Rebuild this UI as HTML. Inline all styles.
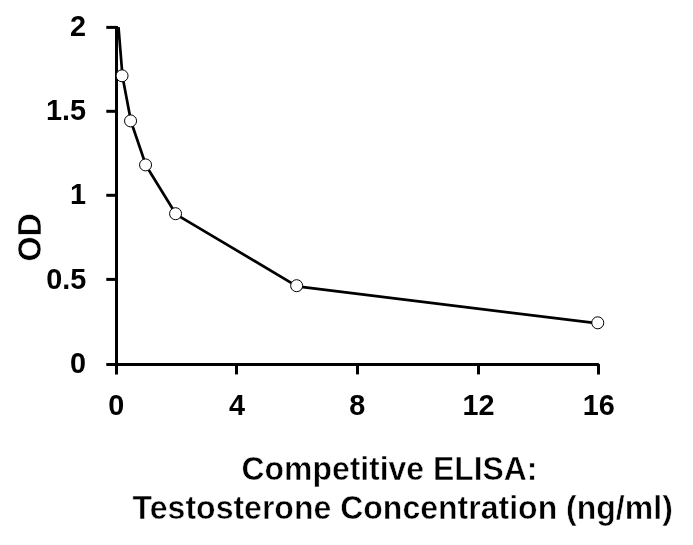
<!DOCTYPE html>
<html lang="en">
<head>
<meta charset="utf-8">
<title>Competitive ELISA: Testosterone Concentration (ng/ml)</title>
<style>
html,body{margin:0;padding:0;background:#fff;}
body{width:693px;height:545px;overflow:hidden;}
svg{display:block;}
text{font-family:"Liberation Sans",sans-serif;font-weight:bold;fill:#000;}
.tick{font-size:28px;}
.ttl{font-size:32px;}
.od{font-size:31px;}
</style>
</head>
<body>
<svg width="693" height="545" viewBox="0 0 693 545">
  <rect x="0" y="0" width="693" height="545" fill="#fff"/>

  <!-- axes -->
  <g stroke="#000" stroke-width="3" fill="none" stroke-linecap="butt">
    <line x1="116.5" y1="26" x2="116.5" y2="374.4"/>
    <path d="M106.3 364.5 L598.5 364.5 L598.5 374.4" stroke-linejoin="bevel"/>
    <!-- y ticks -->
    <line x1="106.3" y1="27.4" x2="116.5" y2="27.4"/>
    <line x1="106.3" y1="111.3" x2="116.5" y2="111.3"/>
    <line x1="106.3" y1="195.3" x2="116.5" y2="195.3"/>
    <line x1="106.3" y1="279.4" x2="116.5" y2="279.4"/>
    <!-- x ticks -->
    <line x1="236.5" y1="364.5" x2="236.5" y2="374.4"/>
    <line x1="357.5" y1="364.5" x2="357.5" y2="374.4"/>
    <line x1="478.5" y1="364.5" x2="478.5" y2="374.4"/>
  </g>

  <!-- data line -->
  <polyline fill="none" stroke="#000" stroke-width="2.7" stroke-linejoin="round"
    points="118.5,27.2 122.5,76.4 131.0,121.5 146.0,165.5 176.0,214.3 297.1,286.3 598.2,323.4"/>

  <!-- markers -->
  <g fill="#fff" stroke="#000" stroke-width="1">
    <circle cx="122.05" cy="75.80" r="6"/>
    <circle cx="130.55" cy="120.90" r="6"/>
    <circle cx="145.55" cy="164.90" r="6"/>
    <circle cx="175.55" cy="213.70" r="6"/>
    <circle cx="296.65" cy="285.70" r="6"/>
    <circle cx="597.75" cy="322.80" r="6"/>
  </g>

  <!-- y tick labels -->
  <g class="tick" text-anchor="end">
    <text transform="translate(86 36.2) scale(1.03 1.07)">2</text>
    <text transform="translate(86 119.9) scale(1.03 1.07)">1.5</text>
    <text transform="translate(86 204) scale(1.03 1.07)">1</text>
    <text transform="translate(86.2 289) scale(1.03 1.07)">0.5</text>
    <text transform="translate(86 373) scale(1.03 1.07)">0</text>
  </g>

  <!-- x tick labels -->
  <g class="tick" text-anchor="middle">
    <text transform="translate(116.3 414.8) scale(1.03 1.07)">0</text>
    <text transform="translate(237 414.8) scale(1.03 1.07)">4</text>
    <text transform="translate(357.3 414.8) scale(1.03 1.07)">8</text>
    <text transform="translate(478.5 414.8) scale(1.03 1.07)">12</text>
    <text transform="translate(598.7 414.8) scale(1.03 1.07)">16</text>
  </g>

  <!-- y axis title -->
  <text class="od" text-anchor="middle" stroke="#fff" stroke-width="0.5" transform="translate(40.9 237.4) rotate(-90) scale(1.04 1.09)">OD</text>

  <!-- x axis title -->
  <g class="ttl" text-anchor="middle" stroke="#fff" stroke-width="0.5">
    <text transform="translate(389.5 480.2) scale(0.997 1.03)">Competitive ELISA:</text>
    <text transform="translate(402.7 519.1) scale(1.001 1.03)">Testosterone Concentration (ng/ml)</text>
  </g>
</svg>
</body>
</html>
